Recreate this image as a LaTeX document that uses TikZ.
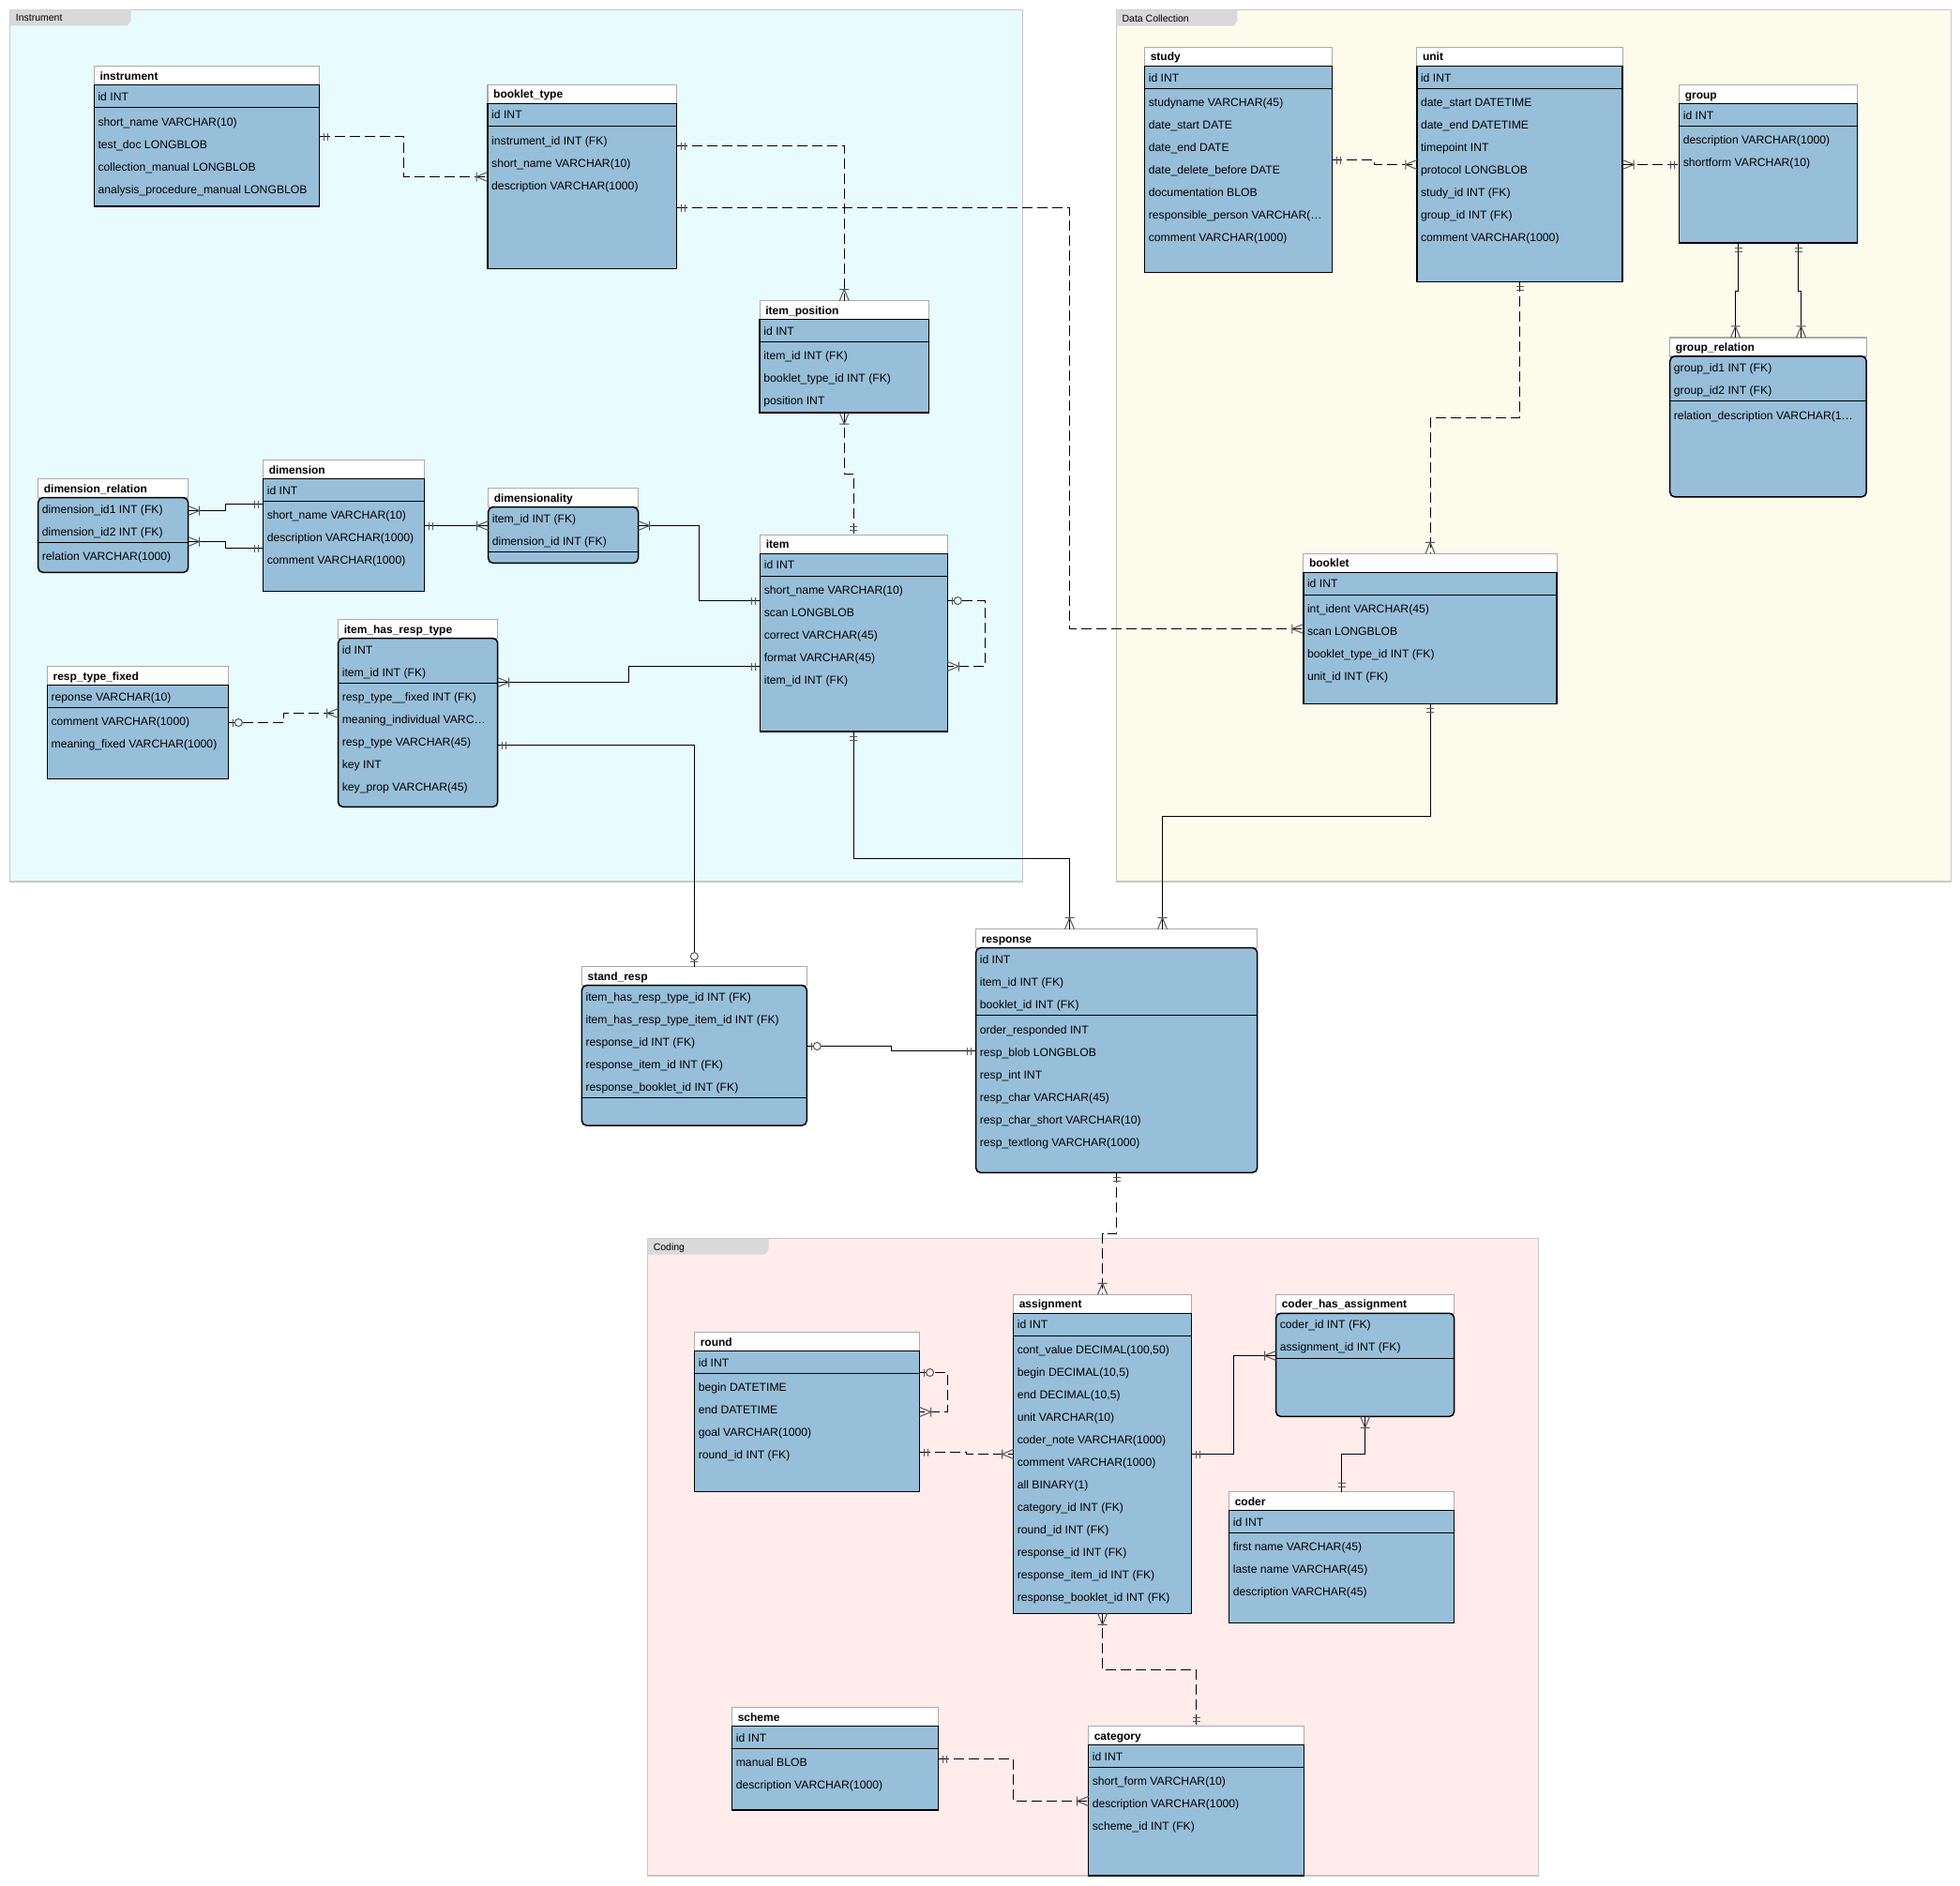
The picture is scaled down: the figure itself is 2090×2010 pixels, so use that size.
\documentclass[tikz,border=0pt]{standalone}
\usepackage{fontspec}
\setmainfont{Liberation Sans}
\usetikzlibrary{calc}
\definecolor{entfill}{RGB}{152,191,218}
\definecolor{instbg}{RGB}{232,251,254}
\definecolor{dcbg}{RGB}{253,251,236}
\definecolor{codbg}{RGB}{255,236,235}
\definecolor{grpline}{RGB}{200,200,200}
\definecolor{tabfill}{RGB}{217,217,217}
\definecolor{ttlline}{RGB}{170,170,170}
\definecolor{mkcol}{RGB}{85,85,85}
\tikzset{
  entnode/.style={rectangle,draw=none,inner sep=0pt,outer sep=0pt,anchor=north west},
  grpbox/.style={rectangle,draw=grpline,line width=1.2pt,inner sep=0pt,outer sep=0pt,anchor=north west},
  grplabel/.style={anchor=base west,inner sep=0pt,font=\fontsize{10.5}{12}\selectfont},
  titlebox/.style={fill=white,draw=ttlline,line width=1.2pt},
  body/.style={fill=entfill,draw=black,line width=1.5pt},
  sepline/.style={draw=black,line width=1.5pt},
  titletext/.style={anchor=base west,inner sep=0pt,font=\bfseries\fontsize{12}{14}\selectfont},
  attr/.style={anchor=base west,inner sep=0pt,font=\fontsize{12.2}{14}\selectfont},
  rel/.style={draw=black,line width=1pt},
  reld/.style={rel,dash pattern=on 11pt off 5pt},
  mk/.style={draw=mkcol,line width=1pt}
}
\newcommand\entbase[8]{%
  \pgfmathsetmacro\ew{#5-#3}%
  \pgfmathsetmacro\eh{#6-#4}%
  \pgfmathsetmacro\tb{#4+20}%
  \node[entnode,minimum width=\ew pt,minimum height=\eh pt] (#2) at (#3,#4) {};%
  \filldraw[titlebox] (#3,#4) rectangle (#5,\tb);%
  \filldraw[body,rounded corners=#1] (#3,\tb) rectangle (#5,#6);%
  \draw[sepline] (#3,#7) -- (#5,#7);%
  \node[titletext] (#2-title) at (#3+6,#4+14.3) {#8};%
  \xdef\cn{#2}\xdef\cx{#3}\xdef\ctop{#4}\xdef\csep{#7}%
}
\newcommand\mkent{\entbase{0pt}}
\newcommand\mkentr{\entbase{5pt}}
\newcommand\krow[2]{\node[attr] (\cn-k#1) at (\cx+4,\ctop+36.3+24*#1-24) {#2};}
\newcommand\arow[2]{\node[attr] (\cn-a#1) at (\cx+4,\csep+19.3+24*#1-24) {#2};}
\newcommand\mkgrp[7]{%
  \pgfmathsetmacro\gw{#4-#2}%
  \pgfmathsetmacro\gh{#5-#3}%
  \node[grpbox,fill=#6,minimum width=\gw pt,minimum height=\gh pt] (#1) at (#2,#3) {};%
  \fill[tabfill] (#2,#3) -- ++(129,0) -- ++(0,12) -- ++(-4,5) -- (#2,#3+17) -- cycle;%
  \node[grplabel] (#1-label) at (#2+6,#3+12.5) {#7};%
}
\newcommand\mkone[2]{\begin{scope}[shift={#1},rotate=#2]\draw[mk] (5,-4) -- (5,4) (9,-4) -- (9,4);\end{scope}}
\newcommand\mkmany[2]{\begin{scope}[shift={#1},rotate=#2]\draw[mk] (0,-5) -- (12,0) -- (0,5) (12,-5) -- (12,5);\end{scope}}
\newcommand\mkzo[3]{\begin{scope}[shift={#1},rotate=#2]\draw[mk] (5,-4) -- (5,4);\filldraw[mk,fill=#3] (11,0) circle[radius=4pt];\end{scope}}
\begin{document}
\begin{tikzpicture}[x=1pt,y=-1pt]
\useasboundingbox (0,0) rectangle (2090,2010);
\fill[white] (0,0) rectangle (2090,2010);
% groups
\mkgrp{grpInstrument}{10.7}{10.3}{1090.5}{940}{instbg}{Instrument}
\mkgrp{grpData}{1190.4}{10.7}{2080.8}{940}{dcbg}{Data Collection}
\mkgrp{grpCoding}{690.6}{1320.7}{1640.6}{2000}{codbg}{Coding}
% entities
\mkent{instrument}{100.3}{70.7}{340.7}{220}{114.7}{instrument}
\krow{1}{id INT}
\arow{1}{short\_name VARCHAR(10)}
\arow{2}{test\_doc LONGBLOB}
\arow{3}{collection\_manual LONGBLOB}
\arow{4}{analysis\_procedure\_manual LONGBLOB}
\mkent{bookletType}{520}{90.3}{721.7}{286.7}{134.7}{booklet\_type}
\krow{1}{id INT}
\arow{1}{instrument\_id INT (FK)}
\arow{2}{short\_name VARCHAR(10)}
\arow{3}{description VARCHAR(1000)}
\mkent{itemPosition}{810.2}{320.7}{990.3}{440}{364.3}{item\_position}
\krow{1}{id INT}
\arow{1}{item\_id INT (FK)}
\arow{2}{booklet\_type\_id INT (FK)}
\arow{3}{position INT}
\mkent{item}{810.6}{570.5}{1010.3}{780.2}{614.6}{item}
\krow{1}{id INT}
\arow{1}{short\_name VARCHAR(10)}
\arow{2}{scan LONGBLOB}
\arow{3}{correct VARCHAR(45)}
\arow{4}{format VARCHAR(45)}
\arow{5}{item\_id INT (FK)}
\mkentr{dimRel}{40.7}{510.7}{200.7}{610.3}{578.3}{dimension\_relation}
\krow{1}{dimension\_id1 INT (FK)}
\krow{2}{dimension\_id2 INT (FK)}
\arow{1}{relation VARCHAR(1000)}
\mkent{dimension}{280.6}{490.7}{452.7}{630.3}{534.3}{dimension}
\krow{1}{id INT}
\arow{1}{short\_name VARCHAR(10)}
\arow{2}{description VARCHAR(1000)}
\arow{3}{comment VARCHAR(1000)}
\mkentr{dimensionality}{520.6}{520.7}{680.5}{600.3}{588.3}{dimensionality}
\krow{1}{item\_id INT (FK)}
\krow{2}{dimension\_id INT (FK)}
\mkent{respTypeFixed}{50.4}{710.7}{243.3}{830.3}{754.3}{resp\_type\_fixed}
\krow{1}{reponse VARCHAR(10)}
\arow{1}{comment VARCHAR(1000)}
\arow{2}{meaning\_fixed VARCHAR(1000)}
\mkentr{ihrt}{360.6}{660.7}{530.7}{860.3}{728.3}{item\_has\_resp\_type}
\krow{1}{id INT}
\krow{2}{item\_id INT (FK)}
\arow{1}{resp\_type\_\_fixed INT (FK)}
\arow{2}{meaning\_individual VARC…}
\arow{3}{resp\_type VARCHAR(45)}
\arow{4}{key INT}
\arow{5}{key\_prop VARCHAR(45)}
\mkentr{standResp}{620.4}{1030.7}{860.3}{1200}{1170.3}{stand\_resp}
\krow{1}{item\_has\_resp\_type\_id INT (FK)}
\krow{2}{item\_has\_resp\_type\_item\_id INT (FK)}
\krow{3}{response\_id INT (FK)}
\krow{4}{response\_item\_id INT (FK)}
\krow{5}{response\_booklet\_id INT (FK)}
\mkentr{response}{1040.6}{990.7}{1340.6}{1250.3}{1082.7}{response}
\krow{1}{id INT}
\krow{2}{item\_id INT (FK)}
\krow{3}{booklet\_id INT (FK)}
\arow{1}{order\_responded INT}
\arow{2}{resp\_blob LONGBLOB}
\arow{3}{resp\_int INT}
\arow{4}{resp\_char VARCHAR(45)}
\arow{5}{resp\_char\_short VARCHAR(10)}
\arow{6}{resp\_textlong VARCHAR(1000)}
\mkent{study}{1220.6}{50.7}{1420.3}{290.3}{94.6}{study}
\krow{1}{id INT}
\arow{1}{studyname VARCHAR(45)}
\arow{2}{date\_start DATE}
\arow{3}{date\_end DATE}
\arow{4}{date\_delete\_before DATE}
\arow{5}{documentation BLOB}
\arow{6}{responsible\_person VARCHAR(…}
\arow{7}{comment VARCHAR(1000)}
\mkent{unit}{1510.8}{50.7}{1730.2}{300.3}{94.6}{unit}
\krow{1}{id INT}
\arow{1}{date\_start DATETIME}
\arow{2}{date\_end DATETIME}
\arow{3}{timepoint INT}
\arow{4}{protocol LONGBLOB}
\arow{5}{study\_id INT (FK)}
\arow{6}{group\_id INT (FK)}
\arow{7}{comment VARCHAR(1000)}
\mkent{group}{1790.6}{90.7}{1980.4}{259.2}{134.6}{group}
\krow{1}{id INT}
\arow{1}{description VARCHAR(1000)}
\arow{2}{shortform VARCHAR(10)}
\mkentr{groupRel}{1780.7}{359.9}{1990.2}{529.8}{427.7}{group\_relation}
\krow{1}{group\_id1 INT (FK)}
\krow{2}{group\_id2 INT (FK)}
\arow{1}{relation\_description VARCHAR(1…}
\mkent{booklet}{1389.8}{590.3}{1660.2}{750.3}{634.3}{booklet}
\krow{1}{id INT}
\arow{1}{int\_ident VARCHAR(45)}
\arow{2}{scan LONGBLOB}
\arow{3}{booklet\_type\_id INT (FK)}
\arow{4}{unit\_id INT (FK)}
\mkent{assignment}{1080.6}{1380.3}{1270.6}{1720.3}{1424.3}{assignment}
\krow{1}{id INT}
\arow{1}{cont\_value DECIMAL(100,50)}
\arow{2}{begin DECIMAL(10,5)}
\arow{3}{end DECIMAL(10,5)}
\arow{4}{unit VARCHAR(10)}
\arow{5}{coder\_note VARCHAR(1000)}
\arow{6}{comment VARCHAR(1000)}
\arow{7}{all BINARY(1)}
\arow{8}{category\_id INT (FK)}
\arow{9}{round\_id INT (FK)}
\arow{10}{response\_id INT (FK)}
\arow{11}{response\_item\_id INT (FK)}
\arow{12}{response\_booklet\_id INT (FK)}
\mkent{round}{740.6}{1420.7}{980.6}{1590.3}{1464.3}{round}
\krow{1}{id INT}
\arow{1}{begin DATETIME}
\arow{2}{end DATETIME}
\arow{3}{goal VARCHAR(1000)}
\arow{4}{round\_id INT (FK)}
\mkentr{cha}{1360.6}{1380.3}{1550.6}{1510.3}{1448.7}{coder\_has\_assignment}
\krow{1}{coder\_id INT (FK)}
\krow{2}{assignment\_id INT (FK)}
\mkent{coder}{1310.6}{1590.7}{1550.6}{1730.3}{1634.3}{coder}
\krow{1}{id INT}
\arow{1}{first name VARCHAR(45)}
\arow{2}{laste name VARCHAR(45)}
\arow{3}{description VARCHAR(45)}
\mkent{category}{1160.6}{1840.7}{1390.6}{2000}{1884.3}{category}
\krow{1}{id INT}
\arow{1}{short\_form VARCHAR(10)}
\arow{2}{description VARCHAR(1000)}
\arow{3}{scheme\_id INT (FK)}
\mkent{scheme}{780.6}{1820.7}{1000.6}{1930}{1864.3}{scheme}
\krow{1}{id INT}
\arow{1}{manual BLOB}
\arow{2}{description VARCHAR(1000)}
% connectors
\draw[reld] (instrument.east |- 0,145.5) -| (430.5,188.5) -- (bookletType.west |- 0,188.5);
\draw[reld] (bookletType.east |- 0,155.5) -| (itemPosition.north);
\draw[reld] (bookletType.east |- 0,221.5) -| (1140.5,670.5) -- (booklet.west |- 0,670.5);
\draw[reld] (itemPosition.south) |- (item.north |- 0,505.5) -- (item.north);
\draw[rel] (dimension.east |- 0,560.5) -- (dimensionality.west |- 0,560.5);
\draw[rel] (dimensionality.east |- 0,560.5) -| (745.5,640.5) -- (item.west |- 0,640.5);
\draw[rel] (dimRel.east |- 0,544.5) -| (240.5,537.5) -- (dimension.west |- 0,537.5);
\draw[rel] (dimRel.east |- 0,577.5) -| (240.5,584.5) -- (dimension.west |- 0,584.5);
\draw[rel] (ihrt.east |- 0,727.5) -| (670.5,710.5) -- (item.west |- 0,710.5);
\draw[reld] (item.east |- 0,640.5) -| (1050.5,710.5) -- (item.east |- 0,710.5);
\draw[reld] (respTypeFixed.east |- 0,770.5) -| (302.5,760.5) -- (ihrt.west |- 0,760.5);
\draw[rel] (ihrt.east |- 0,794.5) -| (standResp.north);
\draw[rel] (item.south) |- (1140.5,915.5) -- (1140.5,0 |- response.north);
\draw[rel] (booklet.south) |- (1239.5,870.5) -- (1239.5,0 |- response.north);
\draw[reld] (unit.south) |- (booklet.north |- 0,445.5) -- (booklet.north);
\draw[reld] (study.east |- 0,170.5) -| (1465.5,175.5) -- (unit.west |- 0,175.5);
\draw[reld] (unit.east |- 0,175.5) -- (group.west |- 0,175.5);
\draw[rel] (1853.5,0 |- group.south) -- (1853.5,310.5) -| (1850.5,0 |- groupRel.north);
\draw[rel] (1917.5,0 |- group.south) -- (1917.5,310.5) -| (1920.5,0 |- groupRel.north);
\draw[rel] (standResp.east |- 0,1115.5) -| (950.5,1120.5) -- (response.west |- 0,1120.5);
\draw[reld] (response.south) |- (assignment.north |- 0,1315.5) -- (assignment.north);
\draw[reld] (round.east |- 0,1463.5) -| (1010.5,1505.5) -- (round.east |- 0,1505.5);
\draw[reld] (round.east |- 0,1548.5) -| (1030.5,1550.5) -- (assignment.west |- 0,1550.5);
\draw[rel] (assignment.east |- 0,1550.5) -| (1315.5,1445.5) -- (cha.west |- 0,1445.5);
\draw[rel] (cha.south) |- (coder.north |- 0,1550.5) -- (coder.north);
\draw[reld] (assignment.south) |- (category.north |- 0,1780.5) -- (category.north);
\draw[reld] (scheme.east |- 0,1875.5) -| (1080.5,1920.5) -- (category.west |- 0,1920.5);
% markers
\mkone{(instrument.east |- 0,145.5)}{0}
\mkmany{(bookletType.west |- 0,188.5)}{180}
\mkone{(bookletType.east |- 0,155.5)}{0}
\mkmany{(itemPosition.north)}{90}
\mkone{(bookletType.east |- 0,221.5)}{0}
\mkmany{(booklet.west |- 0,670.5)}{180}
\mkmany{(itemPosition.south)}{-90}
\mkone{(item.north)}{90}
\mkone{(dimension.east |- 0,560.5)}{0}
\mkmany{(dimensionality.west |- 0,560.5)}{180}
\mkmany{(dimensionality.east |- 0,560.5)}{0}
\mkone{(item.west |- 0,640.5)}{180}
\mkmany{(dimRel.east |- 0,544.5)}{0}
\mkone{(dimension.west |- 0,537.5)}{180}
\mkmany{(dimRel.east |- 0,577.5)}{0}
\mkone{(dimension.west |- 0,584.5)}{180}
\mkmany{(ihrt.east |- 0,727.5)}{0}
\mkone{(item.west |- 0,710.5)}{180}
\mkzo{(item.east |- 0,640.5)}{0}{instbg}
\mkmany{(item.east |- 0,710.5)}{0}
\mkzo{(respTypeFixed.east |- 0,770.5)}{0}{instbg}
\mkmany{(ihrt.west |- 0,760.5)}{180}
\mkone{(ihrt.east |- 0,794.5)}{0}
\mkzo{(standResp.north)}{90}{white}
\mkone{(item.south)}{-90}
\mkmany{(1140.5,0 |- response.north)}{90}
\mkone{(booklet.south)}{-90}
\mkmany{(1239.5,0 |- response.north)}{90}
\mkone{(unit.south)}{-90}
\mkmany{(booklet.north)}{90}
\mkone{(study.east |- 0,170.5)}{0}
\mkmany{(unit.west |- 0,175.5)}{180}
\mkmany{(unit.east |- 0,175.5)}{0}
\mkone{(group.west |- 0,175.5)}{180}
\mkone{(1853.5,0 |- group.south)}{-90}
\mkmany{(1850.5,0 |- groupRel.north)}{90}
\mkone{(1917.5,0 |- group.south)}{-90}
\mkmany{(1920.5,0 |- groupRel.north)}{90}
\mkzo{(standResp.east |- 0,1115.5)}{0}{white}
\mkone{(response.west |- 0,1120.5)}{180}
\mkone{(response.south)}{-90}
\mkmany{(assignment.north)}{90}
\mkzo{(round.east |- 0,1463.5)}{0}{codbg}
\mkmany{(round.east |- 0,1505.5)}{0}
\mkone{(round.east |- 0,1548.5)}{0}
\mkmany{(assignment.west |- 0,1550.5)}{180}
\mkone{(assignment.east |- 0,1550.5)}{0}
\mkmany{(cha.west |- 0,1445.5)}{180}
\mkmany{(cha.south)}{-90}
\mkone{(coder.north)}{90}
\mkmany{(assignment.south)}{-90}
\mkone{(category.north)}{90}
\mkone{(scheme.east |- 0,1875.5)}{0}
\mkmany{(category.west |- 0,1920.5)}{180}
\end{tikzpicture}
\end{document}
